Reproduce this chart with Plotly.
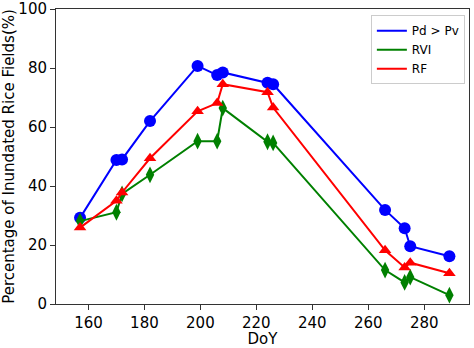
import plotly.graph_objects as go

doy = [157, 170, 172, 182, 199, 206, 208, 224, 226, 266, 273, 275, 289]
pd_pv = [29.2, 48.8, 49.0, 62.0, 80.7, 77.6, 78.5, 75.0, 74.5, 31.9, 25.7, 19.6, 16.2]
rvi = [28.1, 31.1, 37.3, 43.8, 55.2, 55.2, 66.4, 55.0, 54.6, 11.5, 7.3, 9.1, 3.0]
rf = [25.9, 35.0, 37.8, 49.4, 65.3, 68.1, 74.5, 71.8, 66.6, 18.2, 12.4, 14.0, 10.4]

series = [
    ("Pd > Pv", pd_pv, "#0000ff", "circle", 12),
    ("RVI", rvi, "#008000", "diamond-tall", 12),
    ("RF", rf, "#ff0000", "triangle-up", 11),
]

fig = go.Figure()
for name, vals, color, sym, size in series:
    fig.add_trace(go.Scatter(
        x=doy, y=vals, mode="lines+markers", name=name, showlegend=False,
        line=dict(color=color, width=2),
        marker=dict(color=color, symbol=sym, size=size, line=dict(width=0)),
    ))
for name, vals, color, sym, size in series:
    fig.add_trace(go.Scatter(
        x=[None], y=[None], mode="lines", name=name,
        line=dict(color=color, width=2),
    ))

axis_common = dict(
    showgrid=False, zeroline=False, showline=True, linecolor="#333333",
    linewidth=1, mirror=True, ticks="outside", ticklen=5, tickwidth=1,
    tickcolor="#333333", tickfont=dict(size=15, color="black"),
    ticklabeloverflow="allow",
)

fig.update_layout(
    width=474, height=348,
    margin=dict(l=56, r=5, t=9, b=44, autoexpand=False),
    paper_bgcolor="white", plot_bgcolor="white",
    font=dict(family="DejaVu Sans", color="black"),
    xaxis=dict(range=[148.4, 296], tickvals=[160, 180, 200, 220, 240, 260, 280],
               title=dict(text="DoY", font=dict(size=15), standoff=4), **axis_common),
    yaxis=dict(range=[0, 100], tickvals=[0, 20, 40, 60, 80, 100],
               title=dict(text="Percentage of Inundated Rice Fields(%)", font=dict(size=15), standoff=8),
               **axis_common),
    legend=dict(x=0.99, y=0.979, xanchor="right", yanchor="top",
                bgcolor="white", bordercolor="#cccccc", borderwidth=1,
                font=dict(size=12), tracegroupgap=0, itemwidth=30),
)

fig.write_html("out.html")
